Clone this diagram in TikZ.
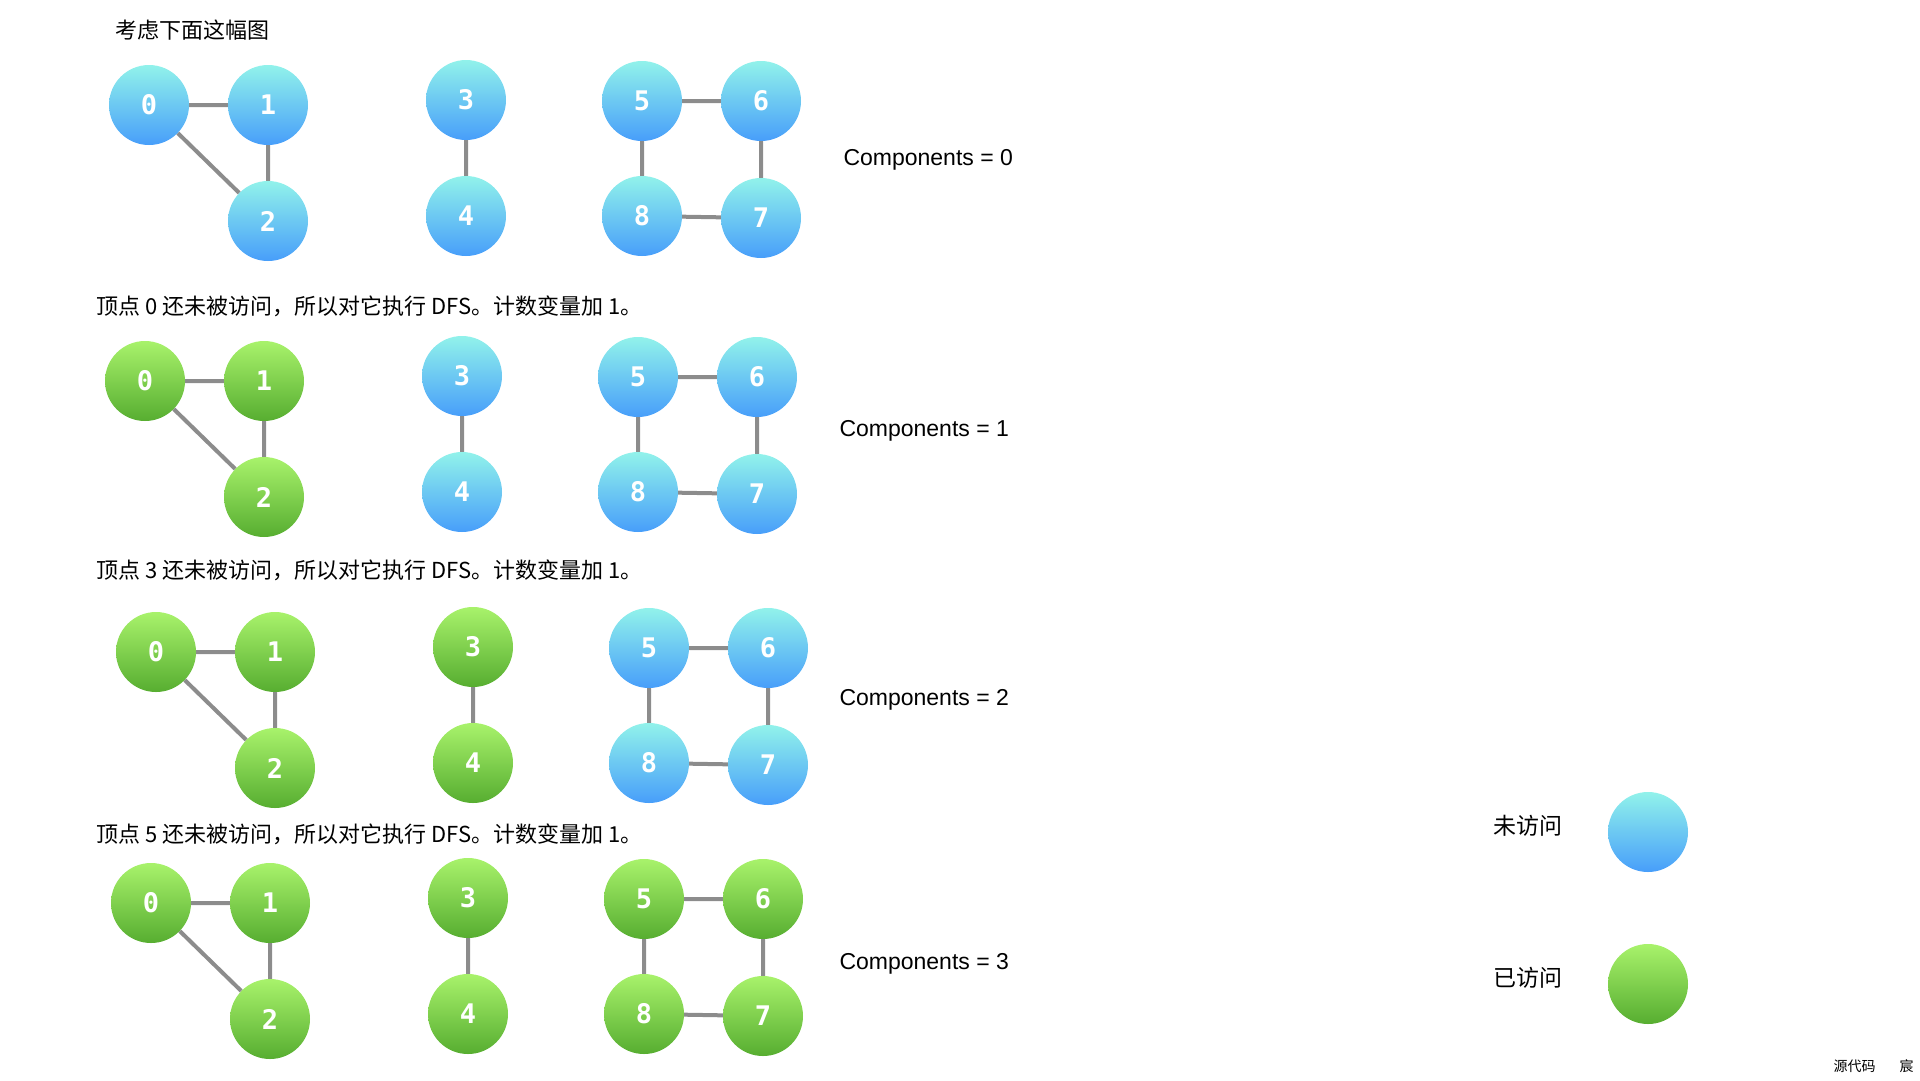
\documentclass[tikz,border=0pt]{standalone}
\usepackage{fontspec}
\setmainfont{Noto Sans CJK SC}
\newfontfamily\numfont{DejaVu Sans Mono}
\newfontfamily\latfont{Liberation Sans}
\usetikzlibrary{backgrounds}
\tikzset{
  vtx/.style={circle,minimum size=80pt,inner sep=0pt,text=white,font=\numfont\bfseries\fontsize{27}{30}\selectfont},
  unv/.style={vtx,top color={rgb,1:red,0.57;green,0.95;blue,0.92},bottom color={rgb,1:red,0.28;green,0.62;blue,0.98}},
  vis/.style={vtx,top color={rgb,1:red,0.66;green,0.95;blue,0.42},bottom color={rgb,1:red,0.34;green,0.68;blue,0.19}},
  edge/.style={draw={rgb,1:red,0.55;green,0.55;blue,0.55},line width=4pt},
  captxt/.style={anchor=west,font=\fontsize{22}{26}\selectfont},
  comp/.style={anchor=west,font=\latfont\fontsize{23}{27}\selectfont},
  legtxt/.style={anchor=west,font=\fontsize{23}{27}\selectfont},
}
\newcommand\grrow[6]{%
  \begin{scope}[shift={(#1,#2)}]
  \node[#4] (#3n0) at (0,0) {0};
  \node[#4] (#3n1) at (119,0) {1};
  \node[#4] (#3n2) at (119,-116) {2};
  \node[#5] (#3n3) at (317,5) {3};
  \node[#5] (#3n4) at (317,-111) {4};
  \node[#6] (#3n5) at (493,4) {5};
  \node[#6] (#3n6) at (612,4) {6};
  \node[#6] (#3n8) at (493,-111) {8};
  \node[#6] (#3n7) at (612,-113) {7};
  \end{scope}
  \begin{scope}[on background layer]
  \draw[edge] (#3n0)--(#3n1) (#3n1)--(#3n2) (#3n0)--(#3n2) (#3n3)--(#3n4)
    (#3n5)--(#3n6) (#3n6)--(#3n7) (#3n7)--(#3n8) (#3n8)--(#3n5);
  \end{scope}}
\begin{document}
\begin{tikzpicture}[x=1pt,y=1pt]
\useasboundingbox (0,0) rectangle (1920,-1080);
\node[captxt] (t0) at (112,-30) {考虑下面这幅图};
\grrow{149}{-105}{a}{unv}{unv}{unv}
\node[comp] (c0) at (840,-160) {Components = 0};
\node[captxt] (t1) at (93,-306) {顶点 0 还未被访问，所以对它执行 DFS。计数变量加 1。};
\grrow{145}{-381}{b}{vis}{unv}{unv}
\node[comp] (c1) at (836,-431) {Components = 1};
\node[captxt] (t2) at (93,-570) {顶点 3 还未被访问，所以对它执行 DFS。计数变量加 1。};
\grrow{156}{-652}{c}{vis}{vis}{unv}
\node[comp] (c2) at (836,-700) {Components = 2};
\node[captxt] (t3) at (93,-834) {顶点 5 还未被访问，所以对它执行 DFS。计数变量加 1。};
\grrow{151}{-903}{d}{vis}{vis}{vis}
\node[comp] (c3) at (836,-964) {Components = 3};
\node[legtxt] (l1) at (1490,-826) {未访问};
\node[unv] (lc1) at (1648,-832) {};
\node[legtxt] (l2) at (1490,-978) {已访问};
\node[vis] (lc2) at (1648,-984) {};
\node[anchor=west,font=\fontsize{14}{16}\selectfont] (f1) at (1830,-1066) {源代码};
\node[anchor=west,font=\fontsize{14}{16}\selectfont] (f2) at (1896,-1066) {宸};
\end{tikzpicture}
\end{document}
